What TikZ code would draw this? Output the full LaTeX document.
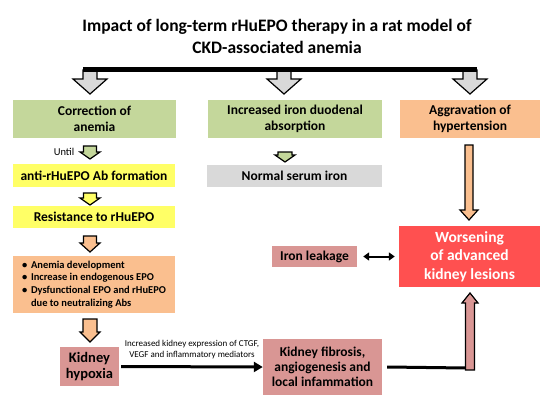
\documentclass[tikz,border=0pt]{standalone}
\usepackage{fontspec}
\setmainfont{Carlito}
\usepackage{xcolor}
\usepackage{tikz}
\usetikzlibrary{arrows.meta,calc}

\definecolor{boxgreen}{RGB}{196,215,155}
\definecolor{boxorange}{RGB}{250,191,143}
\definecolor{boxyellow}{RGB}{255,255,102}
\definecolor{boxgray}{RGB}{217,217,217}
\definecolor{boxpink}{RGB}{217,150,148}
\definecolor{boxred}{RGB}{255,80,80}

% block arrow: from, to, shaft half width, head half width, head length, fill
\newcommand{\fatarrow}[6]{%
  \coordinate (hb) at ($(#2)!#5!(#1)$);
  \filldraw[fat, fill=#6] ($(#1)!#3!90:(#2)$) -- ($(hb)!#3!90:(#2)$)
    -- ($(hb)!#4!90:(#2)$) -- (#2) -- ($(hb)!#4!-90:(#2)$)
    -- ($(hb)!#3!-90:(#2)$) -- ($(#1)!#3!-90:(#2)$) -- cycle;}

\begin{document}
\begin{tikzpicture}[
    x=1pt, y=-1pt,
    box/.style={align=center, inner sep=2pt,
                font=\bfseries\fontsize{13.5}{16}\selectfont},
    bigbox/.style={box, font=\bfseries\fontsize{15.5}{18.5}\selectfont},
    lbl/.style={font=\fontsize{9}{10.5}\selectfont, align=center},
    fat/.style={draw=black, line width=1.2pt, line join=miter},
    arr/.style={-{Triangle[length=9pt,width=10pt]}, line width=3pt},
    darr/.style={{Triangle[length=6pt,width=8pt]}-{Triangle[length=6pt,width=8pt]}, line width=2pt}
]
    \useasboundingbox (0,0) rectangle (550,413);

    % Title
    \node[font=\bfseries\fontsize{17.5}{22}\selectfont, align=center] (title) at (277,36)
        {Impact of long-term rHuEPO therapy in a rat model of\\CKD-associated anemia};

    % Top row
    \node[box, fill=boxgreen, minimum width=163, minimum height=38] (corr) at (94.5,119)
        {Correction of\\anemia};
    \node[box, fill=boxgreen, minimum width=174, minimum height=38] (duod) at (295,119)
        {Increased iron duodenal\\absorption};
    \node[box, fill=boxorange, minimum width=140, minimum height=38] (hyper) at (470,119)
        {Aggravation of\\hypertension};

    % Left column
    \node[font=\fontsize{10.5}{12}\selectfont] (until) at (64,152) {Until};
    \node[box, fill=boxyellow, minimum width=162, minimum height=23] (anti) at (94,175.5)
        {anti-rHuEPO Ab formation};
    \node[box, fill=boxyellow, minimum width=162, minimum height=22] (resist) at (94,217)
        {Resistance to rHuEPO};
    \node[box, fill=boxorange, minimum width=162, minimum height=57,
          align=left, font=\bfseries\fontsize{10.5}{12.7}\selectfont] (effects) at (94,284.5)
        {\makebox[9pt][l]{\textbullet}Anemia development\\
         \makebox[9pt][l]{\textbullet}Increase in endogenous EPO\\
         \makebox[9pt][l]{\textbullet}Dysfunctional EPO and rHuEPO\\
         \hspace*{9pt}due to neutralizing Abs};
    \node[box, fill=boxpink, minimum width=59, minimum height=39,
          font=\bfseries\fontsize{14.5}{16}\selectfont] (hypoxia) at (89.5,366.5)
        {Kidney\\hypoxia};

    % Middle column
    \node[box, fill=boxgray, minimum width=175, minimum height=22] (serum) at (294.5,176)
        {Normal serum iron};
    \node[box, fill=boxpink, minimum width=85, minimum height=21] (leak) at (314.5,256.5)
        {Iron leakage};
    \node[box, fill=boxpink, minimum width=119, minimum height=56,
          font=\bfseries\fontsize{13.5}{15}\selectfont] (fibro) at (322.5,367)
        {Kidney fibrosis,\\angiogenesis and\\local infammation};

    % Right column
    \node[bigbox, fill=boxred, text=white, minimum width=141, minimum height=61] (worse) at (469.5,256.5)
        {Worsening\\of advanced\\kidney lesions};

    % Arrow ends
    \coordinate (t1s) at (90,70);   \coordinate (t1e) at (90,94);
    \coordinate (t2s) at (284,70);  \coordinate (t2e) at (284,94);
    \coordinate (t3s) at (470,70);  \coordinate (t3e) at (470,94);
    \coordinate (barL) at (83,69.5); \coordinate (barR) at (477,69.5);
    \coordinate (g1s) at (90,146);  \coordinate (g1e) at (90,159);
    \coordinate (y1s) at (90,193);  \coordinate (y1e) at (90,205);
    \coordinate (o1s) at (90,236);  \coordinate (o1e) at (90,252);
    \coordinate (o2s) at (90,319);  \coordinate (o2e) at (90,342);
    \coordinate (g2s) at (285,152); \coordinate (g2e) at (285,162);
    \coordinate (hs) at (469,145);  \coordinate (he) at (469,220);
    \coordinate (ps) at (470,370);  \coordinate (pe) at (470,293);
    \coordinate (pj) at (466,368);

    % Block arrows
    \fatarrow{t1s}{t1e}{7pt}{17pt}{15pt}{boxgray}
    \fatarrow{t2s}{t2e}{7pt}{17pt}{15pt}{boxgray}
    \fatarrow{t3s}{t3e}{7pt}{17pt}{15pt}{boxgray}
    \draw[line width=4.5pt] (barL) -- (barR);

    \fatarrow{g1s}{g1e}{6.5pt}{10pt}{7pt}{boxgreen}
    \fatarrow{y1s}{y1e}{6.5pt}{10pt}{7pt}{boxyellow}
    \fatarrow{o1s}{o1e}{6.5pt}{10pt}{9pt}{boxorange}
    \fatarrow{o2s}{o2e}{7pt}{10pt}{10pt}{boxorange}
    \fatarrow{g2s}{g2e}{7pt}{10pt}{7pt}{boxgreen}
    \fatarrow{hs}{he}{4pt}{9pt}{10pt}{boxorange}

    % Line arrows
    \draw[arr] ([xshift=2pt]hypoxia.east) -- node[above=3pt, lbl]
        {Increased kidney expression of CTGF,\\VEGF and inflammatory mediators} (fibro.west);
    \draw[line width=3pt] ([xshift=5pt]fibro.east) -- (pj);
    \fatarrow{ps}{pe}{4.5pt}{8pt}{10pt}{boxpink}
    \draw[darr] ([xshift=6pt]leak.east) -- ([xshift=-4pt]worse.west);

\end{tikzpicture}
\end{document}
